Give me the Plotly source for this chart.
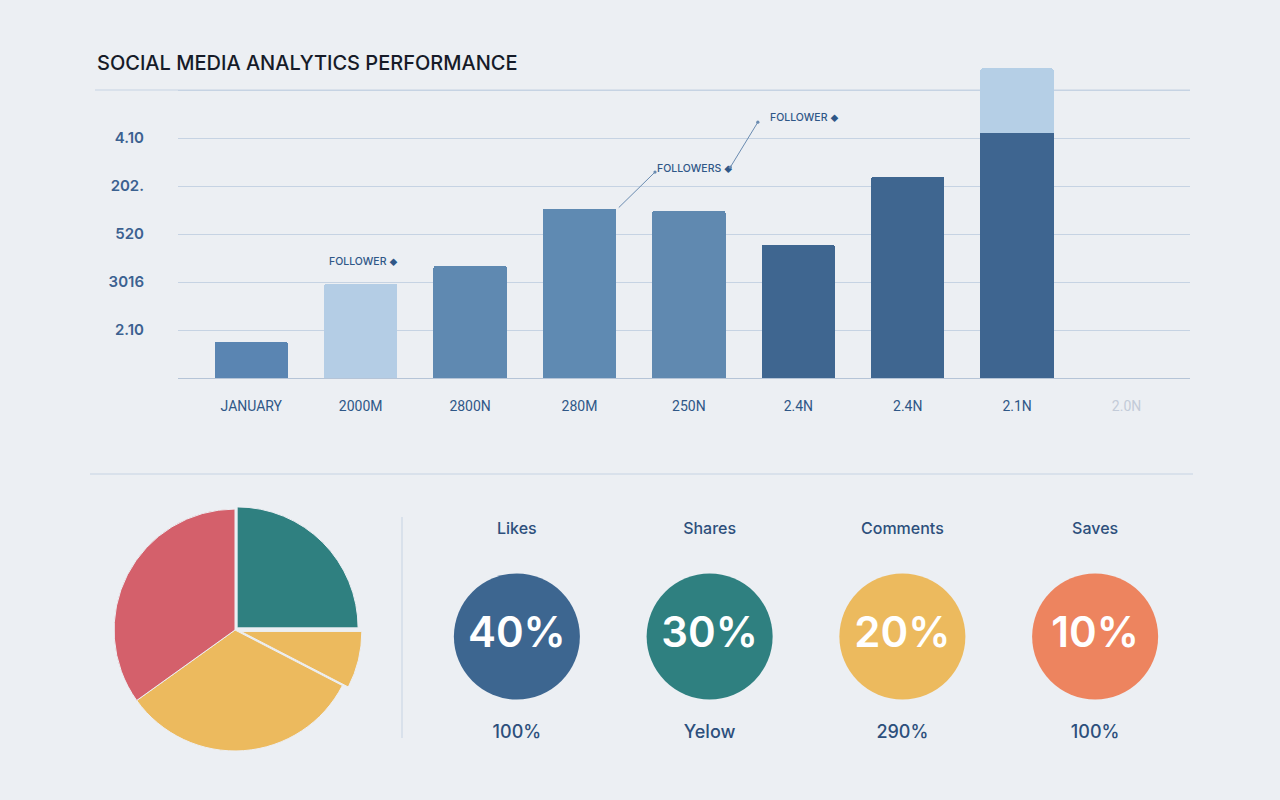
import plotly.graph_objects as go

# ---------------- data ----------------
title_text = "SOCIAL MEDIA ANALYTICS PERFORMANCE"
x_labels = ["JANUARY", "2000M", "2800N", "280M", "250N", "2.4N", "2.4N", "2.1N", "2.0N"]
bar_values = [0.75, 1.96, 2.33, 3.52, 3.48, 2.77, 4.19, 5.10, None]
bar_top_values = [None, None, None, None, None, None, None, 1.35, None]
bar_colors = ["#5a85b2", "#b4cde5", "#5f89b1", "#5f8ab2", "#6089b0",
              "#3f6690", "#3f6690", "#3e6590", "#3e6590"]
top_color = "#b5cfe6"
y_tick_vals = [1, 2, 3, 4, 5, 6]
y_tick_text = ["2.10", "3016", "520", "202.", "4.10", ""]

pie_labels = ["Teal", "Yellow small", "Yellow", "Red"]
pie_values = [25.0, 7.6, 32.5, 34.9]
pie_colors = ["#2f8080", "#ecba5e", "#ecba5e", "#d4606b"]
pie_pull = [0.025, 0.05, 0, 0]

metric_names = ["Likes", "Shares", "Comments", "Saves"]
metric_pct = [40, 30, 20, 10]
metric_colors = ["#3d6690", "#2f8080", "#ecba5e", "#ed845f"]
metric_bottom = ["100%", "Yelow", "290%", "100%"]

# ---------------- figure ----------------
W, H = 1280, 800
BG = "#eceff3"
GRID = "#c6d3e3"
TXT = "#2d4f7c"

def px_x(p):
    return p / W

def px_y(p):
    return 1 - p / H

fig = go.Figure()

xpos = list(range(len(x_labels)))

fig.add_trace(go.Bar(x=xpos, y=bar_values, marker=dict(color=bar_colors, line_width=0),
                     width=0.67, xaxis="x", yaxis="y", showlegend=False, hoverinfo="skip"))
fig.add_trace(go.Bar(x=xpos, y=bar_top_values, marker=dict(color=top_color, line_width=0),
                     width=0.67, xaxis="x", yaxis="y", showlegend=False, hoverinfo="skip"))

tick_text_styled = [
    (f"<span style='color:#c3cbd8'>{t}</span>" if i == len(x_labels) - 1 else t)
    for i, t in enumerate(x_labels)
]

fig.add_trace(go.Pie(labels=pie_labels, values=pie_values, sort=False, direction="clockwise",
                     rotation=0, pull=pie_pull, textinfo="none", hoverinfo="skip",
                     marker=dict(colors=pie_colors, line=dict(width=1, color=BG)),
                     domain=dict(x=[px_x(108), px_x(362)], y=[px_y(757), px_y(503)]),
                     showlegend=False))

fig.add_trace(go.Scatter(x=list(range(len(metric_names))), y=[0.475] * len(metric_names),
                         mode="markers+text",
                         marker=dict(size=126, color=metric_colors, line_width=0),
                         text=[f"{v}%" for v in metric_pct], textposition="middle center",
                         textfont=dict(family="Inter", size=42, color="white", weight=600),
                         xaxis="x3", yaxis="y3", showlegend=False, hoverinfo="skip"))

fig.add_trace(go.Scatter(x=list(range(len(metric_names))), y=[0.885] * len(metric_names),
                         mode="text", text=metric_names, textposition="middle center",
                         textfont=dict(family="Inter", size=16, color=TXT, weight=500),
                         xaxis="x3", yaxis="y3", showlegend=False, hoverinfo="skip"))
fig.add_trace(go.Scatter(x=list(range(len(metric_names))), y=[0.102] * len(metric_names),
                         mode="text", text=metric_bottom, textposition="middle center",
                         textfont=dict(family="Inter", size=18, color=TXT, weight=500),
                         xaxis="x3", yaxis="y3", showlegend=False, hoverinfo="skip"))

annotations = [
    dict(text=title_text, x=px_x(95), y=px_y(63), xref="paper", yref="paper",
         xanchor="left", yanchor="middle", showarrow=False,
         font=dict(family="Inter", size=20, color="#161b28", weight=500)),
    dict(text="FOLLOWER <span style='font-size:8px'>◆</span>", x=1.03, y=2.42, xref="x", yref="y",
         showarrow=False, font=dict(family="Inter", size=10.5, color="#2f5787", weight=500)),
    dict(text="FOLLOWERS <span style='font-size:8px'>◆</span>", x=4.06, y=4.375, xref="x", yref="y",
         showarrow=False, font=dict(family="Inter", size=10.5, color="#2f5787", weight=500)),
    dict(text="FOLLOWER <span style='font-size:8px'>◆</span>", x=5.06, y=5.42, xref="x", yref="y",
         showarrow=False, font=dict(family="Inter", size=10.5, color="#2f5787", weight=500)),
    dict(text="", x=3.69, y=4.29, ax=3.345, ay=3.52, xref="x", yref="y", axref="x", ayref="y",
         showarrow=True, arrowhead=6, arrowsize=0.8, arrowwidth=1, arrowcolor="#6a8bb0"),
    dict(text="", x=4.63, y=5.33, ax=4.37, ay=4.36, xref="x", yref="y", axref="x", ayref="y",
         showarrow=True, arrowhead=6, startarrowhead=6, arrowside="end+start",
         arrowsize=0.8, startarrowsize=0.8, arrowwidth=1, arrowcolor="#6a8bb0"),
]

shapes = [
    dict(type="line", xref="paper", yref="y", x0=px_x(95), x1=px_x(1190), y0=6, y1=6,
         line=dict(color=GRID, width=1), layer="below"),
    dict(type="line", xref="paper", yref="paper", x0=px_x(90), x1=px_x(1193),
         y0=px_y(474), y1=px_y(474), line=dict(color=GRID, width=1)),
    dict(type="line", xref="paper", yref="paper", x0=px_x(402), x1=px_x(402),
         y0=px_y(517), y1=px_y(738), line=dict(color=GRID, width=1)),
]

fig.update_layout(
    width=W, height=H, autosize=False,
    margin=dict(l=0, r=0, t=0, b=0),
    paper_bgcolor=BG, plot_bgcolor=BG,
    barmode="stack", barcornerradius=2,
    xaxis=dict(domain=[px_x(178), px_x(1190)], range=[-0.67, 8.58],
               tickvals=xpos, ticktext=tick_text_styled, showgrid=False, zeroline=False,
               showline=True, linecolor="#b5c4d7", linewidth=1, ticks="",
               ticklabelstandoff=15,
               tickfont=dict(family="Roboto", size=14, color="#2f5787")),
    yaxis=dict(domain=[px_y(378), px_y(61.2)], range=[0, 6.6],
               tickvals=y_tick_vals, ticktext=y_tick_text, showgrid=True, gridcolor=GRID,
               gridwidth=1, zeroline=False, showline=False, ticks="",
               ticklabelstandoff=33,
               tickfont=dict(family="Inter", size=15, color="#3b6190", weight=600)),
    xaxis3=dict(domain=[px_x(420.5), px_x(1191.5)], range=[-0.5, 3.5], visible=False),
    yaxis3=dict(domain=[px_y(760), px_y(500)], range=[0, 1], visible=False),
    annotations=annotations,
    shapes=shapes,
)

fig.write_html("out.html")
